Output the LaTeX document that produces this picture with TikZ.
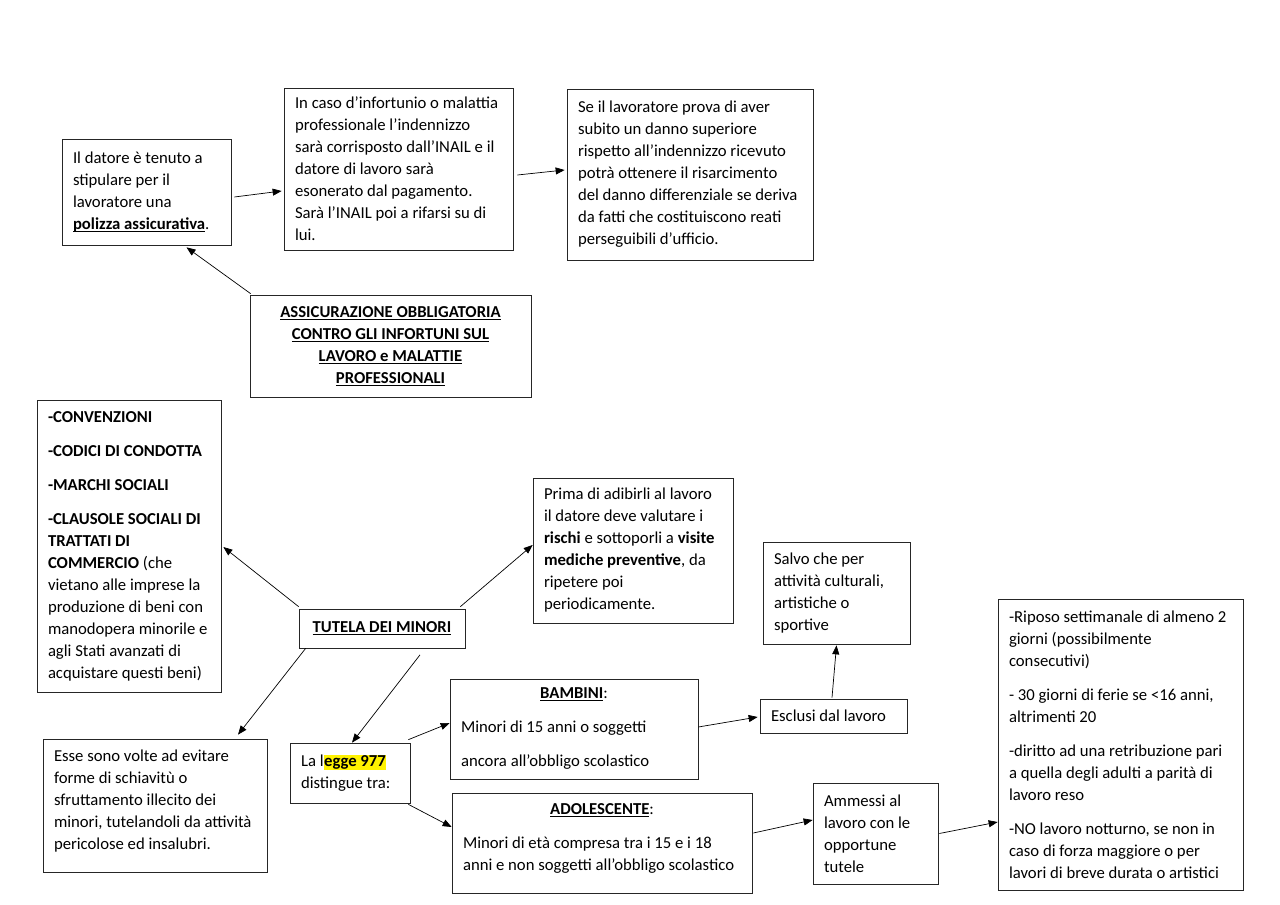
\documentclass[tikz,border=0pt]{standalone}
\usepackage{fontspec}
\setmainfont{Carlito}
\usepackage{tikz}
\usetikzlibrary{arrows.meta}
\usepackage{xcolor}
\tikzstyle{casella} = [draw=black!85, fill=white, line width=0.7pt,
    rectangle, inner xsep=11pt, inner ysep=2pt, align=flush center,
    font=\fontsize{16.7}{22}\selectfont]
\tikzstyle{testo} = [casella, align=flush left,
    execute at begin node={\rightskip=-8pt plus 1fil\hyphenpenalty=10000}]
\tikzstyle{freccia} = [-{Triangle[length=9pt,width=7pt]}, line width=0.7pt, black]
\newcommand{\sott}[1]{\underline{\smash{#1}}\vphantom{A}}
\newcommand{\evid}[1]{{\setlength{\fboxsep}{0.5pt}\colorbox{yellow}{#1}}}

\begin{document}
\begin{tikzpicture}[x=1pt, y=-1pt]
    \fill[white] (0,0) rectangle (1280,905);
    \useasboundingbox (0,0) rectangle (1280,905);

    % assicurazione
    \node [testo, text width=147pt, minimum height=106pt] (polizza) at (146.5,192) {
        Il datore è tenuto a\\ stipulare per il\\ lavoratore una\\
        \sott{\textbf{polizza assicurativa}}.};
    \node [testo, text width=207pt, minimum height=162pt] (inail) at (398.5,169) {
        In caso d’infortunio o malattia\\ professionale l’indennizzo\\
        sarà corrisposto dall’INAIL e il\\ datore di lavoro sarà\\
        esonerato dal pagamento.\\ Sarà l’INAIL poi a rifarsi su di\\ lui.};
    \node [testo, text width=224pt, minimum height=171pt] (danno) at (690,174.5) {
        Se il lavoratore prova di aver\\ subito un danno superiore\\
        rispetto all’indennizzo ricevuto\\ potrà ottenere il risarcimento\\
        del danno differenziale se deriva\\ da fatti che costituiscono reati\\
        perseguibili d’ufficio.\\[-18pt]\mbox{}};
    \node [casella, text width=259pt, minimum height=102pt] (assic) at (390.5,346) {
        \sott{\textbf{ASSICURAZIONE OBBLIGATORIA}}\\ \sott{\textbf{CONTRO GLI INFORTUNI SUL}}\\
        \sott{\textbf{LAVORO e MALATTIE}}\\ \sott{\textbf{PROFESSIONALI}}};

    % tutela dei minori
    \node [testo, text width=162pt, minimum height=292pt] (conv) at (129,546) {
        \textbf{-CONVENZIONI}\\[12pt] \textbf{-CODICI DI CONDOTTA}\\[12pt]
        \textbf{-MARCHI SOCIALI}\\[12pt] \textbf{-CLAUSOLE SOCIALI DI}\\
        \textbf{TRATTATI DI}\\ \textbf{COMMERCIO} (che\\ vietano alle imprese la\\
        produzione di beni con\\ manodopera minorile e\\ agli Stati avanzati di\\
        acquistare questi beni)};
    \node [casella, text width=144pt, minimum height=39pt] (tutela) at (382,628.5) {
        \sott{\textbf{TUTELA DEI MINORI}}};
    \node [testo, text width=178pt, minimum height=145pt] (prima) at (633,550.5) {
        Prima di adibirli al lavoro\\ il datore deve valutare i\\
        \textbf{rischi} e sottoporli a \textbf{visite}\\ \textbf{mediche preventive}, da\\
        ripetere poi\\ periodicamente.};
    \node [testo, text width=202pt, minimum height=133pt] (esse) at (155,805.5) {
        Esse sono volte ad evitare\\ forme di schiavitù o\\ sfruttamento illecito dei\\
        minori, tutelandoli da attività\\ pericolose ed insalubri.\\[-10pt]\mbox{}};
    \node [testo, text width=98pt, minimum height=60pt] (legge) at (350,773) {
        La l\evid{\textbf{egge 977}}\\ distingue tra:};
    \node [testo, text width=226pt, minimum height=100pt] (bambini) at (574,729) {
        \makebox[\hsize]{\sott{\textbf{BAMBINI}}:}\\[12pt]
        Minori di 15 anni o soggetti\\[12pt] ancora all’obbligo scolastico};
    \node [testo, text width=278pt, minimum height=100pt] (adolesc) at (602,843) {
        \makebox[\hsize]{\sott{\textbf{ADOLESCENTE}}:}\\[12pt]
        Minori di età compresa tra i 15 e i 18\\
        anni e non soggetti all’obbligo scolastico\\[-10pt]\mbox{}};
    \node [testo, text width=125pt, minimum height=34pt] (esclusi) at (833.5,716) {
        Esclusi dal lavoro};
    \node [testo, text width=125pt, minimum height=102pt] (salvo) at (836.5,593) {
        Salvo che per\\ attività culturali,\\ artistiche o\\ sportive};
    \node [testo, text width=103pt, minimum height=101pt] (ammessi) at (875.5,833.5) {
        Ammessi al\\ lavoro con le\\ opportune\\ tutele};
    \node [testo, text width=223pt, minimum height=291pt] (riposo) at (1120.5,744.5) {
        -Riposo settimanale di almeno 2\\ giorni (possibilmente\\ consecutivi)\\[12pt]
        - 30 giorni di ferie se <16 anni,\\ altrimenti 20\\[12pt]
        -diritto ad una retribuzione pari\\ a quella degli adulti a parità di\\ lavoro reso\\[12pt]
        -NO lavoro notturno, se non in\\ caso di forza maggiore o per\\
        lavori di breve durata o artistici};

    \draw[freccia] ([xshift=3pt,yshift=-5pt]polizza.east) -- ([xshift=-2pt,yshift=-22pt]inail.west);
    \draw[freccia] ([xshift=4pt,yshift=-6pt]inail.east) -- ([xshift=-2pt,yshift=4.5pt]danno.west);
    \draw[freccia] ([xshift=1pt,yshift=1pt]assic.north west) -- ([xshift=40pt,yshift=-2pt]polizza.south);
    \draw[freccia] ([yshift=2pt]tutela.north west) -- ([xshift=2pt,yshift=-1pt]conv.east);
    \draw[freccia] ([xshift=-5pt,yshift=2pt]tutela.north east) -- ([yshift=5.5pt]prima.west);
    \draw[freccia] ([xshift=7pt]tutela.south west) -- ([xshift=83pt,yshift=4pt]esse.north);
    \draw[freccia] ([xshift=38pt,yshift=-6.5pt]tutela.south) -- ([xshift=2pt]legge.north);
    \draw[freccia] ([xshift=-2pt,yshift=3pt]legge.north east) -- ([yshift=6pt]bambini.west);
    \draw[freccia] ([xshift=-2pt,yshift=-1pt]legge.south east) -- ([yshift=16pt]adolesc.west);
    \draw[freccia] ([yshift=2pt]bambini.east) -- ([xshift=-2pt,yshift=-1pt]esclusi.west);
    \draw[freccia] ([xshift=-1.5pt,yshift=1pt]esclusi.north) -- ([yshift=-1pt]salvo.south);
    \draw[freccia] ([xshift=1pt,yshift=10pt]adolesc.east) -- ([yshift=13.5pt]ammessi.west);
    \draw[freccia] ([xshift=1pt]ammessi.east) -- ([yshift=-77.5pt]riposo.west);
\end{tikzpicture}
\end{document}
